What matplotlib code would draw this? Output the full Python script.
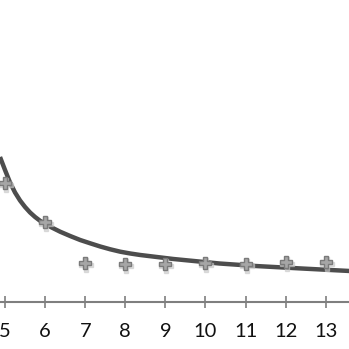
import numpy as np
import matplotlib
matplotlib.use("Agg")
from matplotlib import pyplot as plt
import matplotlib.transforms as mtransforms

# observed points (x, y in arbitrary units; baseline = 0)
pt_x = [5, 6, 7, 8, 9, 10, 11, 12, 13]
pt_y = [11.9, 8.0, 3.9, 3.8, 3.8, 3.9, 3.8, 4.0, 4.0]

# trend curve
curve_x = [4.875, 5.0, 5.125, 5.25, 5.375, 5.5, 5.625, 5.75, 5.875, 6.125, 6.375, 6.625,
           6.875, 7.125, 7.375, 7.625, 7.875, 8.125, 8.375, 9.2, 10.35, 11.25, 12.4, 13.6]
curve_y = [14.5, 13.2, 11.95, 10.95, 10.15, 9.5, 8.95, 8.5, 8.12, 7.53, 7.03, 6.6,
           6.2, 5.87, 5.55, 5.27, 5.03, 4.85, 4.7, 4.3, 3.85, 3.6, 3.35, 3.1]

ticks = [5, 6, 7, 8, 9, 10, 11, 12, 13]

fig = plt.figure(figsize=(3.49, 3.49), dpi=100)
ax = fig.add_axes([0, (349 - 302) / 349, 1, 302 / 349])
ax.set_xlim(4.875, 13.58)
ax.set_ylim(0, 30.2)

ax.plot(curve_x, curve_y, color="#4d4d4d", lw=3.2, solid_joinstyle="round",
        solid_capstyle="butt", zorder=3)

# soft shadow under the markers
shadow = mtransforms.offset_copy(ax.transData, fig=fig, x=1.0, y=-1.5, units="dots")
ax.plot(pt_x, pt_y, "P", ms=10, mfc="#c8c8c8", mec="#c8c8c8", alpha=0.6,
        transform=shadow, zorder=4, clip_on=False)
ax.plot(pt_x, pt_y, "P", ms=9, mfc="#a6a6a6", mec="#7a7a7a", mew=1.0,
        zorder=5, clip_on=False)

for s in ["left", "right", "top"]:
    ax.spines[s].set_visible(False)
ax.spines["bottom"].set_color("#7f7f7f")
ax.spines["bottom"].set_linewidth(1.5)
ax.set_yticks([])
ax.set_xticks(ticks)
ax.set_xticklabels([str(t) for t in ticks])
ax.tick_params(axis="x", direction="inout", length=8.5, width=1.2, color="#7f7f7f",
               pad=11, labelsize=14.5)
for lab in ax.get_xticklabels():
    lab.set_fontfamily("Lato")
    lab.set_color("#111111")

fig.savefig("out.png", dpi=100)
